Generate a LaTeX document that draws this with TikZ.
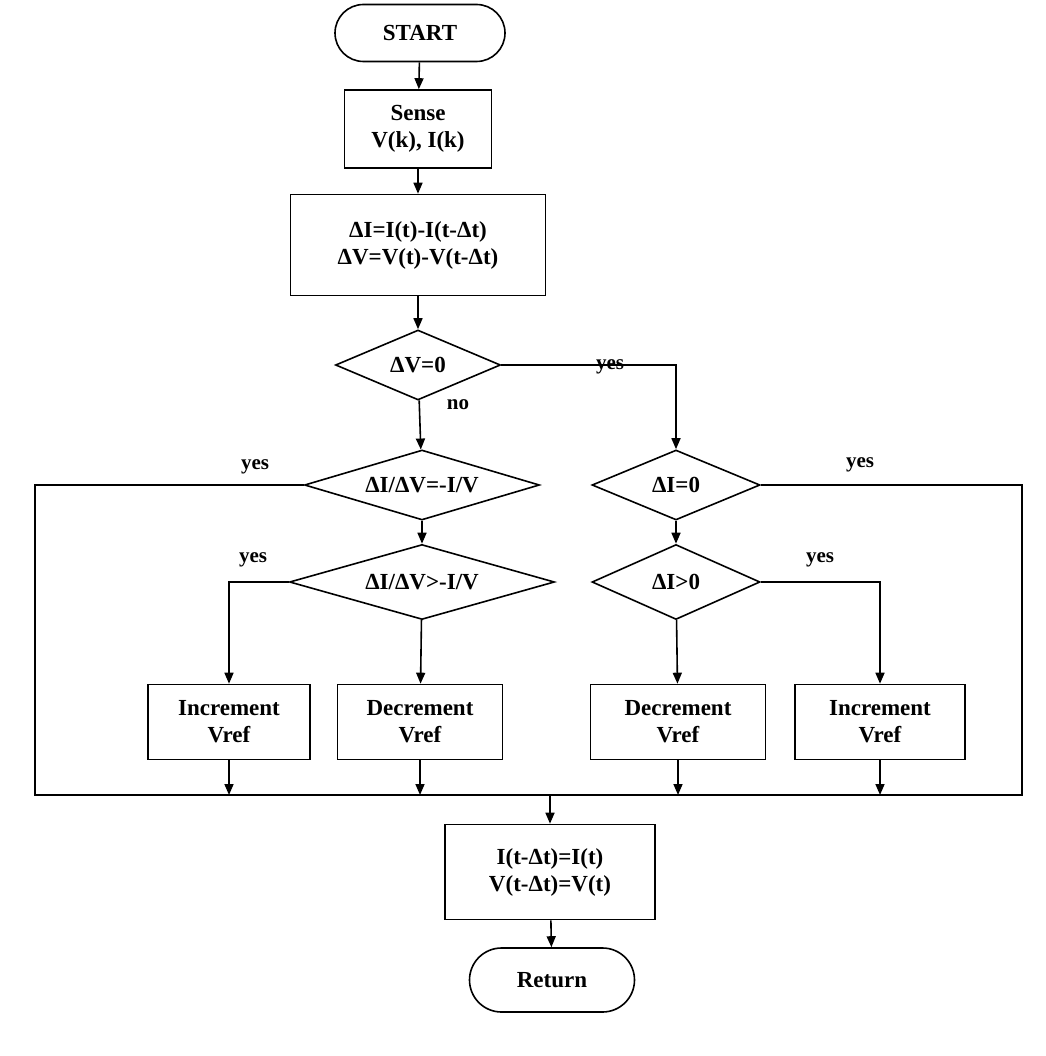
\documentclass[tikz,border=0pt]{standalone}
\usepackage{fontspec}
\setmainfont{Liberation Serif}
\usetikzlibrary{shapes.geometric,shapes.misc,arrows.meta}
\begin{document}
\begin{tikzpicture}[x=1pt,y=-1pt,
  every node/.style={font=\fontsize{23}{27}\selectfont\bfseries},
  box/.style={draw,line width=1.6pt,rectangle,align=center,inner sep=0pt},
  term/.style={draw,line width=1.6pt,rounded rectangle,inner sep=0pt},
  dia/.style={draw,line width=1.6pt,diamond,aspect=3,inner sep=0pt},
  lab/.style={font=\fontsize{21}{25}\selectfont\bfseries},
  ar/.style={line width=1.6pt,-{Triangle[length=11pt,width=9pt]}},
  ln/.style={line width=1.6pt}]
\useasboundingbox (0,0) rectangle (1045,1056);
\node[term,minimum width=170,minimum height=57] (start) at (420,33) {START};
\node[box,minimum width=147,minimum height=78] (sense) at (418,129) {Sense\\V(k), I(k)};
\node[box,minimum width=255,minimum height=101] (diff) at (418,245) {ΔI=I(t)-I(t-Δt)\\ΔV=V(t)-V(t-Δt)};
\node[dia,minimum width=165,minimum height=70,aspect=2.4] (d1) at (418,365) {ΔV=0};
\node[dia,minimum width=235,minimum height=70,aspect=3.4] (d2) at (422,485) {ΔI/ΔV=-I/V};
\node[dia,minimum width=168,minimum height=70,aspect=2.4] (d3) at (676,485) {ΔI=0};
\node[dia,minimum width=265,minimum height=75,aspect=3.5] (d4) at (422,582) {ΔI/ΔV>-I/V};
\node[dia,minimum width=168,minimum height=75,aspect=2.2] (d5) at (676,582) {ΔI>0};
\node[box,minimum width=162,minimum height=75] (b1) at (229,722) {Increment\\Vref};
\node[box,minimum width=165,minimum height=75] (b2) at (420,722) {Decrement\\Vref};
\node[box,minimum width=175,minimum height=75] (b3) at (678,722) {Decrement\\Vref};
\node[box,minimum width=170,minimum height=75] (b4) at (880,722) {Increment\\Vref};
\node[box,minimum width=210,minimum height=95] (upd) at (550,872) {I(t-Δt)=I(t)\\V(t-Δt)=V(t)};
\node[term,minimum width=165,minimum height=64] (ret) at (552,980) {Return};
\coordinate (jn) at (550,795);
\draw[ar] (start) -- (sense);
\draw[ar] (sense) -- (diff);
\draw[ar] (diff) -- (d1);
\draw[ar] (d1) -- (d2);
\draw[ar] (d1.east) -| (d3.north);
\draw[ar] (d2) -- (d4);
\draw[ar] (d3) -- (d5);
\draw[ar] (d4.west) -| (b1.north);
\draw[ar] (d4) -- (b2);
\draw[ar] (d5) -- (b3);
\draw[ar] (d5.east) -| (b4.north);
\draw[ln] (d2.west) -| (35,795) -- (1022,795) |- (d3.east);
\foreach \b in {b1,b2,b3,b4} \draw[ar] (\b.south) -- (\b.south |- jn);
\draw[ar] (jn) -- (upd);
\draw[ar] (upd) -- (ret);
\node[lab] at (610,367) {yes};
\node[lab] at (458,405) {no};
\node[lab] at (255,467) {yes};
\node[lab] at (860,465) {yes};
\node[lab] at (253,560) {yes};
\node[lab] at (820,560) {yes};
\end{tikzpicture}
\end{document}
